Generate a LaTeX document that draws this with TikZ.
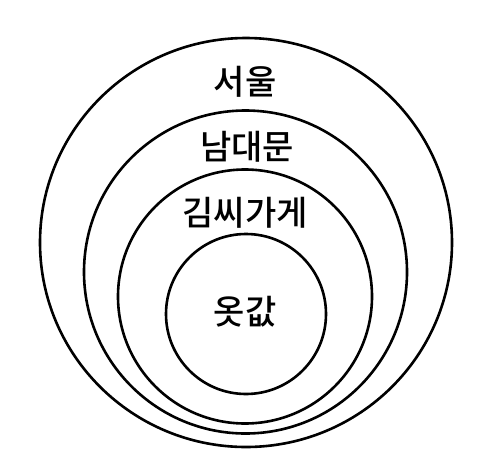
\documentclass[tikz,border=0pt]{standalone}
\usepackage{fontspec}
\newfontfamily\kofont{Noto Sans CJK KR Medium}
\begin{document}
\begin{tikzpicture}[x=1pt,y=-1pt]
    \tikzstyle{every node}+=[inner sep=0pt,font=\kofont\fontsize{34}{36}\selectfont]
    \useasboundingbox (0,0) rectangle (490,464);
    \draw [black,line width=2.6pt] (246,242.5) ellipse (206 and 204.5);
    \draw [black,line width=2.6pt] (245.5,272) circle (161.5);
    \draw [black,line width=2.6pt] (245,296.5) circle (127);
    \draw [black,line width=2.6pt] (246,314) circle (80);
    \draw (245,82) node (seoul) {서울};
    \draw (247,147) node (namdaemun) {남대문};
    \draw (245,213) node (kimshop) {김씨가게};
    \draw (245,312) node (price) {옷값};
\end{tikzpicture}
\end{document}
